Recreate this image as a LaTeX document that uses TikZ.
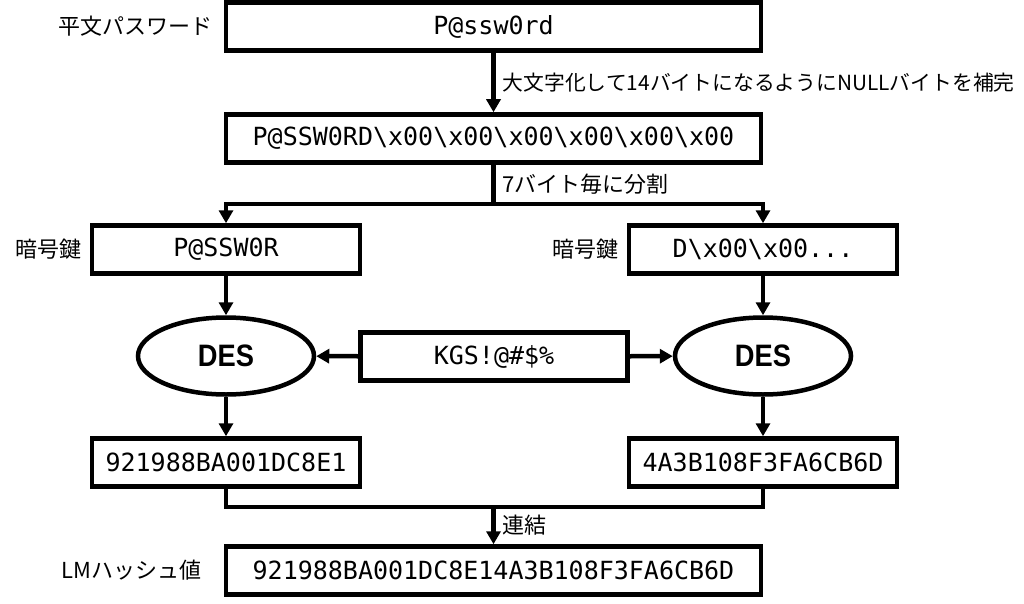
\documentclass[tikz,border=0pt]{standalone}
\usepackage{fontspec}
\setmonofont{DejaVu Sans Mono}
\newfontfamily\jp{Noto Sans CJK JP}
\newfontfamily\dessf{Liberation Sans}
\usetikzlibrary{arrows.meta}
\usetikzlibrary{shapes}
\usetikzlibrary{positioning}
\newcommand{\tdots}{...}
\newcommand{\bs}{\textbackslash}

\tikzset{
	box/.style={draw, line width=4.5pt, minimum height=48pt, inner sep=0pt, font=\ttfamily\fontsize{25}{25}\selectfont},
	cipher/.style={draw, ellipse, line width=4.5pt, minimum width=176pt, minimum height=77pt, inner sep=0pt, font=\dessf\bfseries\fontsize{31}{31}\selectfont},
	lbl/.style={inner sep=0pt, font=\jp\fontsize{22}{22}\selectfont},
	conn/.style={line width=4.5pt},
	arr/.style={conn, -{Triangle[length=13pt,width=14pt]}},
}

\begin{document}
\begin{tikzpicture}[x=1pt, y=-1pt]
		\useasboundingbox (0,0) rectangle (1024,604);
		
		\node[box, minimum width=535pt] (pw) at (493.5,26.5) {P@ssw0rd};
		\node[lbl, left=11pt of pw] {平文パスワード};
		\node[box, minimum width=535pt] (upper) at (493.5,138.5) {P@SSW0RD\bs x00\bs x00\bs x00\bs x00\bs x00\bs x00};
		\coordinate (split) at (493.5,204);
		
		\draw[arr] (pw) -- (upper) node[lbl, midway, right=7pt, font=\jp\fontsize{20.8}{20.8}\selectfont] {大文字化して14バイトになるようにNULLバイトを補完};
		\draw[conn] (upper) -- (split) node[lbl, midway, right=7pt] {7バイト毎に分割};
		
		\foreach \i/\x/\k/\r in {1/226/P@SSW0R/921988BA001DC8E1, 2/763/D\bs x00\bs x00\tdots/4A3B108F3FA6CB6D}{
			\node[box, minimum width=268pt] (key-\i) at (\x,249.5) {\k};
			\node[lbl, left=8pt of key-\i] {暗号鍵};
			\node[cipher] (des-\i) at (\x,356) {\scalebox{0.88}[1]{DES}};
			\node[box, minimum width=268pt] (res-\i) at (\x,462.5) {\r};
			\draw[arr] (split) -| (key-\i);
			\draw[arr] (key-\i) -- (des-\i);
			\draw[arr] (des-\i) -- (res-\i);
		}
		
		\node[box, minimum width=267pt] (kgs) at (494,356.5) {KGS!@\#\$\%};
		\draw[arr] (kgs) -- (des-1);
		\draw[arr] (kgs) -- (des-2);
		
		\node[box, minimum width=535pt] (lm) at (493.5,570.5) {921988BA001DC8E14A3B108F3FA6CB6D};
		\node[lbl, left=22pt of lm] {LMハッシュ値};
		\coordinate (join) at (493.5,507);
		\draw[conn] (res-1) |- (join) -| (res-2);
		\draw[arr] (join) -- (lm) node[lbl, midway, right=7pt] {連結};
		%\draw[red] (0,0) rectangle (1024,604);
\end{tikzpicture}
\end{document}
